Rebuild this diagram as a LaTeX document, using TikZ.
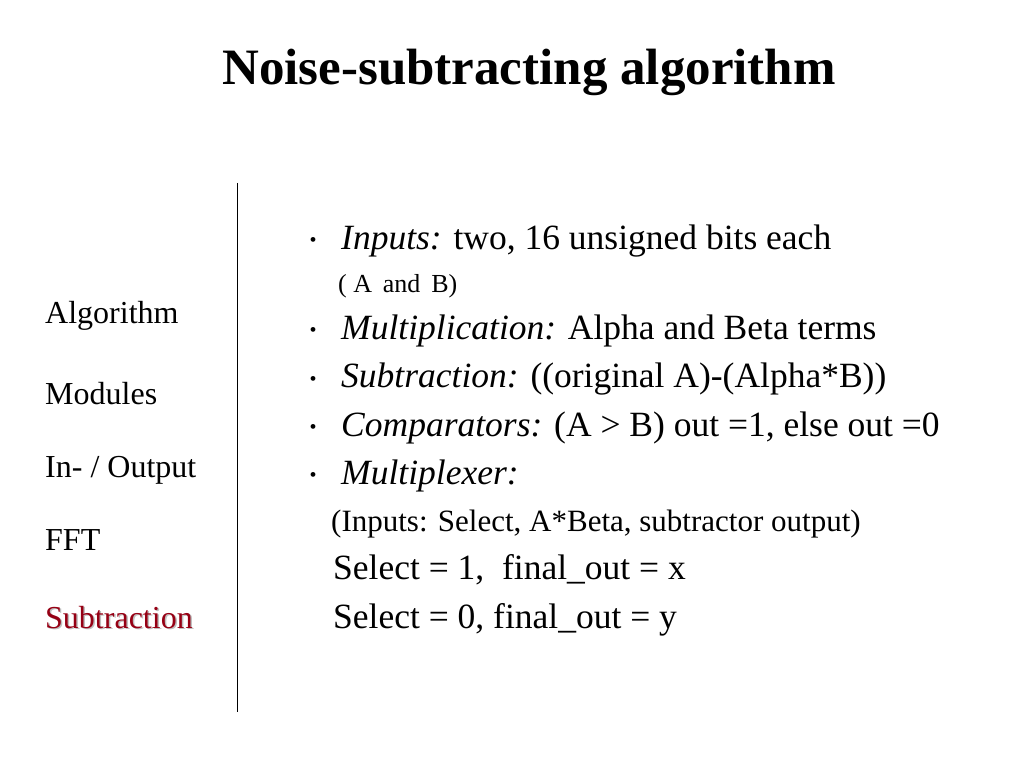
\documentclass[tikz,border=0pt]{standalone}
\usepackage{fontspec}
\setmainfont{Liberation Serif}
\definecolor{dred}{RGB}{150,0,20}
\begin{document}
\begin{tikzpicture}[x=1pt,y=-1pt,
  body/.style={anchor=base west,inner sep=0pt,font=\fontsize{35.5}{38}\selectfont},
  small/.style={anchor=base west,inner sep=0pt,font=\fontsize{31}{34}\selectfont},
  side/.style={anchor=base west,inner sep=0pt,font=\fontsize{32}{36}\selectfont},
  bul/.style={anchor=base,inner sep=0pt,font=\fontsize{20}{22}\selectfont}]
\useasboundingbox (0,0) rectangle (1023,767);
\node[anchor=base,inner sep=0pt,font=\fontsize{51}{56}\selectfont\bfseries] (title) at (529,85) {Noise-subtracting algorithm};
\draw[line width=0.8pt] (237,183) -- (237,712);
\node[side] (s1) at (45,324) {Algorithm};
\node[side] (s2) at (45,404) {Modules};
\node[side] (s3) at (45,477) {In- / Output};
\node[side] (s4) at (45,550) {FFT};
\node[side,text=gray!50] at (46.5,629.5) {Subtraction};
\node[side,text=dred] (s5) at (45,628) {Subtraction};
\foreach \y in {247,337,385,433,481} \node[bul] at (313,\y) {•};
\node[body] (b1) at (341,250) {\textit{Inputs:} two, 16 unsigned bits each};
\node[small,font=\fontsize{26}{30}\selectfont] (b1a) at (338,293) {( A\, and\, B)};
\node[body] (b2) at (341,340) {\textit{Multiplication:} Alpha and Beta terms};
\node[body] (b3) at (341,388) {\textit{Subtraction:} ((original A)-(Alpha*B))};
\node[body] (b4) at (341,436) {\textit{Comparators:} (A > B) out =1, else out =0};
\node[body] (b5) at (341,484) {\textit{Multiplexer:}};
\node[small] (b6) at (331,531) {(Inputs: Select, A*Beta, subtractor output)};
\node[body] (b7) at (333,579) {Select = 1,\ \ final\_out = x};
\node[body] (b8) at (333,628) {Select = 0, final\_out = y};
\end{tikzpicture}
\end{document}
